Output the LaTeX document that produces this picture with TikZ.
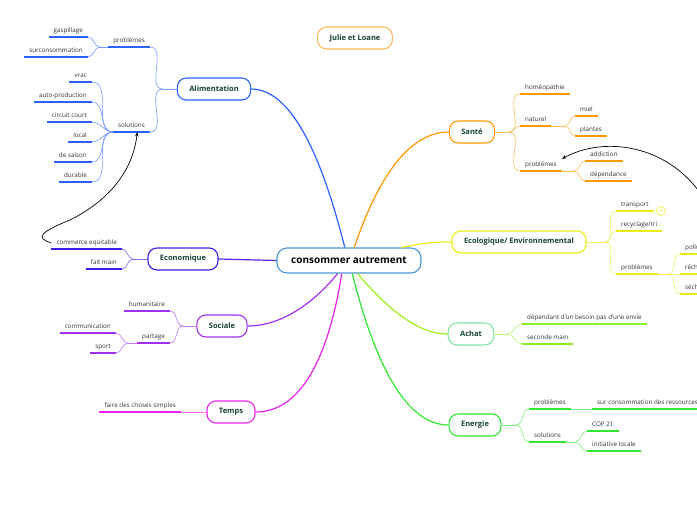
\documentclass[tikz,border=0pt]{standalone}
\usepackage{fontspec}
\setmainfont{Open Sans}
\usetikzlibrary{positioning,arrows.meta}

\definecolor{rootblue}{RGB}{74,152,214}
\definecolor{alimblue}{RGB}{41,98,255}
\definecolor{ecoblue}{RGB}{58,30,236}
\definecolor{socviolet}{RGB}{160,48,240}
\definecolor{tempsmag}{RGB}{238,34,238}
\definecolor{santeorange}{RGB}{255,152,0}
\definecolor{ecoyellow}{RGB}{236,236,20}
\definecolor{achatmint}{RGB}{128,230,160}
\definecolor{achatlime}{RGB}{140,238,40}
\definecolor{energiegreen}{RGB}{48,232,48}
\definecolor{titlegreen}{RGB}{22,68,52}
\definecolor{leafgray}{RGB}{50,50,50}
\definecolor{nameorange}{RGB}{255,184,90}

\begin{document}
\begin{tikzpicture}[x=1pt, y=-1pt,
    root node/.style={draw=rootblue, line width=1.1pt, rounded corners=10pt, fill=white,
        minimum width=144pt, minimum height=25pt, font=\fontsize{10}{12}\selectfont\bfseries},
    main node/.style={draw=#1, line width=1.1pt, rounded corners=9pt, fill=white,
        minimum height=22pt, inner xsep=12pt, text=titlegreen, font=\fontsize{7.5}{9}\selectfont\bfseries},
    leaf/.style={text=leafgray, inner xsep=5pt, inner ysep=2.5pt, text depth=2pt,
        font=\fontsize{6.3}{7}\selectfont,
        append after command={(\tikzlastnode.south west) edge[draw=#1, line width=1.3pt] (\tikzlastnode.south east)}},
    twig/.style={draw=#1!65!white, line width=0.6pt},
    limb/.style={draw=#1, line width=1.2pt},
    link/.style={draw=black, line width=0.7pt, -{Stealth[length=4.5pt,width=3.5pt]}},
    badge/.style={draw=ecoyellow, circle, fill=white, line width=0.5pt, minimum size=9pt, inner sep=0pt,
        text=ecoyellow, font=\fontsize{4.5}{5}\selectfont}]

\useasboundingbox (0,0) rectangle (697,520);

\node[root node] (root) at (349,260.5) {consommer autrement};
\node[main node=nameorange] (authors) at (355,38) {Julie et Loane};

% Alimentation
\node[main node=alimblue] (alim) at (214,89) {Alimentation};
\node[leaf=alimblue, anchor=south east] (alimprob) at (150,47) {problèmes};
\node[leaf=alimblue, anchor=south east] (gaspi) at (88,37) {gaspillage};
\node[leaf=alimblue, below=20pt of gaspi.south east, anchor=south east] (surconso) {surconsommation};
\node[leaf=alimblue, anchor=south east] (alimsol) at (150,132) {solutions};
\node[leaf=alimblue, anchor=south east] (vrac) at (92,82) {vrac};
\node[leaf=alimblue, below=20pt of vrac.south east, anchor=south east] (autoprod) {auto-production};
\node[leaf=alimblue, below=20pt of autoprod.south east, anchor=south east] (circuit) {circuit court};
\node[leaf=alimblue, below=20pt of circuit.south east, anchor=south east] (local) {local};
\node[leaf=alimblue, below=20pt of local.south east, anchor=south east] (saison) {de saison};
\node[leaf=alimblue, below=20pt of saison.south east, anchor=south east] (durable) {durable};

\draw[twig=alimblue] (alim.west) -- (163,89) coordinate (alimfork);
\draw[twig=alimblue] (alimfork) to[out=180,in=0] (alimprob.south east);
\draw[twig=alimblue] (alimfork) to[out=180,in=0] (alimsol.south east);
\draw[twig=alimblue] (alimprob.south west) -- (100,47) coordinate (probfork);
\draw[twig=alimblue] (probfork) to[out=180,in=0] (gaspi.south east);
\draw[twig=alimblue] (probfork) to[out=180,in=0] (surconso.south east);
\draw[twig=alimblue] (alimsol.south west) to[out=180,in=0] (vrac.south east);
\draw[twig=alimblue] (alimsol.south west) to[out=180,in=0] (autoprod.south east);
\draw[twig=alimblue] (alimsol.south west) to[out=180,in=0] (circuit.south east);
\draw[twig=alimblue] (alimsol.south west) to[out=180,in=0] (local.south east);
\draw[twig=alimblue] (alimsol.south west) to[out=180,in=0] (saison.south east);
\draw[twig=alimblue] (alimsol.south west) to[out=180,in=0] (durable.south east);

% Economique
\node[main node=ecoblue] (econ) at (183,259) {Economique};
\node[leaf=ecoblue, anchor=south east] (commerce) at (122,249) {commerce equitable};
\node[leaf=ecoblue, below=20pt of commerce.south east, anchor=south east] (faitmain) {fait main};

\draw[twig=ecoblue] (econ.west) -- (133,259) coordinate (econfork);
\draw[twig=ecoblue] (econfork) to[out=180,in=0] (commerce.south east);
\draw[twig=ecoblue] (econfork) to[out=180,in=0] (faitmain.south east);

% Sociale
\node[main node=socviolet] (soc) at (222,326) {Sociale};
\node[leaf=socviolet, anchor=south east] (humani) at (170,311) {humanitaire};
\node[leaf=socviolet, anchor=south east] (partage) at (170,343) {partage};
\node[leaf=socviolet, anchor=south east] (commu) at (116,333) {communication};
\node[leaf=socviolet, below=20pt of commu.south east, anchor=south east] (sport) {sport};

\draw[twig=socviolet] (soc.west) -- (183,326) coordinate (socfork);
\draw[twig=socviolet] (socfork) to[out=180,in=0] (humani.south east);
\draw[twig=socviolet] (socfork) to[out=180,in=0] (partage.south east);
\draw[twig=socviolet] (partage.south west) -- (128,343) coordinate (partfork);
\draw[twig=socviolet] (partfork) to[out=180,in=0] (commu.south east);
\draw[twig=socviolet] (partfork) to[out=180,in=0] (sport.south east);

% Temps
\node[main node=tempsmag] (temps) at (231,412) {Temps};
\node[leaf=tempsmag, anchor=south east] (simples) at (181,412) {faire des choses simples};
\draw[twig=tempsmag] (temps.west) -- (simples.south east);

% Sante
\node[main node=santeorange] (sante) at (472,132) {Santé};
\node[leaf=santeorange, anchor=south west] (homeo) at (520,94) {homéopathie};
\node[leaf=santeorange, anchor=south west] (naturel) at (520,126) {naturel};
\node[leaf=santeorange, anchor=south west] (sprob) at (520,171) {problèmes};
\node[leaf=santeorange, anchor=south west] (miel) at (575,116) {miel};
\node[leaf=santeorange, below=20pt of miel.south west, anchor=south west] (plantes) {plantes};
\node[leaf=santeorange, anchor=south west] (addict) at (585,161) {addiction};
\node[leaf=santeorange, below=20pt of addict.south west, anchor=south west] (depend) {dépendance};

\draw[twig=santeorange] (sante.east) -- (509,132) coordinate (santefork);
\draw[twig=santeorange] (santefork) to[out=0,in=180] (homeo.south west);
\draw[twig=santeorange] (santefork) to[out=0,in=180] (naturel.south west);
\draw[twig=santeorange] (santefork) to[out=0,in=180] (sprob.south west);
\draw[twig=santeorange] (naturel.south east) -- (565,126) coordinate (natfork);
\draw[twig=santeorange] (natfork) to[out=0,in=180] (miel.south west);
\draw[twig=santeorange] (natfork) to[out=0,in=180] (plantes.south west);
\draw[twig=santeorange] (sprob.south east) -- (574,171) coordinate (sprobfork);
\draw[twig=santeorange] (sprobfork) to[out=0,in=180] (addict.south west);
\draw[twig=santeorange] (sprobfork) to[out=0,in=180] (depend.south west);

% Ecologique
\node[main node=ecoyellow] (ecolo) at (519,242) {Ecologique/ Environnemental};
\node[leaf=ecoyellow, anchor=south west] (transport) at (616,211) {transport};
\node[leaf=ecoyellow, below=20pt of transport.south west, anchor=south west] (recycl) {recyclage/tri};
\node[leaf=ecoyellow, anchor=south west] (eprob) at (616,274) {problèmes};
\node[leaf=ecoyellow, anchor=south west] (pollu) at (680,254) {pollution};
\node[leaf=ecoyellow, below=20pt of pollu.south west, anchor=south west] (rechauf) {réchauffement};
\node[leaf=ecoyellow, below=20pt of rechauf.south west, anchor=south west] (secher) {sécheresse};
\node[badge] (tcount) at (661,211) {2};

\draw[twig=ecoyellow] (ecolo.east) -- (605,242) coordinate (ecofork);
\draw[twig=ecoyellow] (ecofork) to[out=0,in=180] (transport.south west);
\draw[twig=ecoyellow] (ecofork) to[out=0,in=180] (recycl.south west);
\draw[twig=ecoyellow] (ecofork) to[out=0,in=180] (eprob.south west);
\draw[twig=ecoyellow] (eprob.south east) -- (668,274) coordinate (eprobfork);
\draw[twig=ecoyellow] (eprobfork) to[out=0,in=180] (pollu.south west);
\draw[twig=ecoyellow] (eprobfork) to[out=0,in=180] (rechauf.south west);
\draw[twig=ecoyellow] (eprobfork) to[out=0,in=180] (secher.south west);

% Achat
\node[main node=achatmint] (achat) at (471,334) {Achat};
\node[leaf=achatlime, anchor=south west] (besoin) at (522,324) {dépendant d'un besoin pas d'une envie};
\node[leaf=achatlime, below=20pt of besoin.south west, anchor=south west] (occasion) {seconde main};

\draw[twig=achatlime] (achat.east) -- (507,334) coordinate (achatfork);
\draw[twig=achatlime] (achatfork) to[out=0,in=180] (besoin.south west);
\draw[twig=achatlime] (achatfork) to[out=0,in=180] (occasion.south west);

% Energie
\node[main node=energiegreen] (energie) at (475,425) {Energie};
\node[leaf=energiegreen, anchor=south west] (enprob) at (529,409) {problèmes};
\node[leaf=energiegreen, anchor=south west] (ensol) at (529,442) {solutions};
\node[leaf=energiegreen, anchor=south west] (ressources) at (592,409) {sur consommation des ressources naturelles};
\node[leaf=energiegreen, anchor=south west] (cop) at (587,431) {COP 21};
\node[leaf=energiegreen, below=20pt of cop.south west, anchor=south west] (initiative) {initiative locale};

\draw[twig=energiegreen] (energie.east) -- (516,425) coordinate (enfork);
\draw[twig=energiegreen] (enfork) to[out=0,in=180] (enprob.south west);
\draw[twig=energiegreen] (enfork) to[out=0,in=180] (ensol.south west);
\draw[twig=energiegreen] (enprob.south east) -- (ressources.south west);
\draw[twig=energiegreen] (ensol.south east) -- (575,442) coordinate (ensolfork);
\draw[twig=energiegreen] (ensolfork) to[out=0,in=180] (cop.south west);
\draw[twig=energiegreen] (ensolfork) to[out=0,in=180] (initiative.south west);

% branches from the centre
\draw[limb=alimblue] (root.108) .. controls (324,165) and (294,89) .. (alim.east);
\draw[limb=santeorange] (root.68) .. controls (372,195) and (402,132) .. (sante.west);
\draw[limb=ecoyellow] (root.14) .. controls (420,244) and (428,242) .. (ecolo.west);
\draw[limb=ecoblue!70!socviolet] (root.west) -- (econ.east);
\draw[limb=socviolet] (root.229) .. controls (312,305) and (280,326) .. (soc.east);
\draw[limb=tempsmag] (root.241) .. controls (328,360) and (300,412) .. (temps.east);
\draw[limb=energiegreen] (root.284) .. controls (372,352) and (402,425) .. (energie.west);
\draw[limb=achatlime!80!ecoyellow] (root.303) .. controls (382,302) and (414,334) .. (achat.west);

% cross links
\draw[link] (commerce.west) .. controls (35,238) and (40,232) .. (70,220)
    .. controls (110,200) and (133,170) .. (alimsol.-46);
\coordinate (offright) at (712,214);
\draw[link] (offright) .. controls (684,150) and (612,132) .. (sprob.north east);

\end{tikzpicture}
\end{document}
